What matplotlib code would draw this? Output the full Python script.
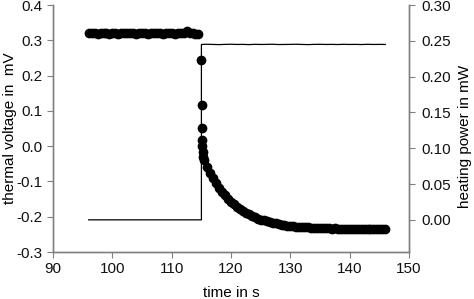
import matplotlib
matplotlib.use("Agg")
import matplotlib.pyplot as plt

plt.rcParams['font.family'] = ['Liberation Sans', 'DejaVu Sans']
plt.rcParams['axes.unicode_minus'] = False

# thermal voltage (mV) - plateau before heating is switched on
t_before = [96.0, 96.5, 97.0, 97.5, 98.0, 98.5, 99.0, 99.5, 100.0, 100.5,
            101.0, 101.5, 102.0, 102.5, 103.0, 103.5, 104.0, 104.5, 105.0, 105.5,
            106.0, 106.5, 107.0, 107.5, 108.0, 108.5, 109.0, 109.5, 110.0, 110.5,
            111.0, 111.5, 112.0, 112.5, 113.0, 113.5, 114.0, 114.5]
v_before = [0.321, 0.320, 0.321, 0.319, 0.320, 0.322, 0.320, 0.319, 0.321, 0.320,
            0.319, 0.321, 0.320, 0.321, 0.322, 0.320, 0.319, 0.320, 0.321, 0.320,
            0.319, 0.320, 0.321, 0.320, 0.320, 0.319, 0.320, 0.321, 0.320, 0.319,
            0.320, 0.321, 0.322, 0.326, 0.321, 0.320, 0.319, 0.318]

# thermal voltage after the step
t_after = [115.0, 115.02, 115.05, 115.08, 115.12, 115.2, 115.3, 115.5, 116.0, 116.5,
           117.0, 117.5, 118.0, 118.5, 119.0, 119.5, 120.0, 120.5, 121.0, 121.5,
           122.0, 122.5, 123.0, 123.5, 124.0, 124.5, 125.0, 125.5, 126.0, 126.5,
           127.0, 127.5, 128.0, 128.5, 129.0, 129.5, 130.0, 130.5, 131.0, 131.5,
           132.0, 132.5, 133.0, 133.5, 134.0, 134.5, 135.0, 135.5, 136.0, 136.5,
           137.0, 137.5, 138.0, 138.5, 139.0, 139.5, 140.0, 140.5, 141.0, 141.5,
           142.0, 142.5, 143.0, 143.5, 144.0, 144.5, 145.0, 145.5, 146.0]
v_after = [0.245, 0.117, 0.051, 0.017, 0.000, -0.015, -0.030, -0.039, -0.058, -0.075,
           -0.091, -0.105, -0.118, -0.129, -0.139, -0.149, -0.157, -0.165, -0.172, -0.178,
           -0.184, -0.189, -0.193, -0.197, -0.201, -0.205, -0.208, -0.210, -0.213, -0.215,
           -0.217, -0.219, -0.221, -0.222, -0.223, -0.225, -0.226, -0.227, -0.228, -0.228,
           -0.229, -0.230, -0.230, -0.231, -0.231, -0.232, -0.232, -0.233, -0.233, -0.233,
           -0.234, -0.233, -0.234, -0.234, -0.235, -0.234, -0.235, -0.235, -0.234, -0.235,
           -0.236, -0.235, -0.235, -0.236, -0.235, -0.236, -0.236, -0.235, -0.236]

# heating power (mW)
t_power = [96.0, 115.0, 115.0, 116.0, 117.0, 118.0, 119.0, 120.0, 121.0, 122.0,
           123.0, 124.0, 125.0, 126.0, 127.0, 128.0, 129.0, 130.0, 131.0, 132.0,
           133.0, 134.0, 135.0, 136.0, 137.0, 138.0, 139.0, 140.0, 141.0, 142.0,
           143.0, 144.0, 145.0, 146.0]
p_power = [0.000, 0.000, 0.2450, 0.2453, 0.2450, 0.2448, 0.2451, 0.2453, 0.2450, 0.2451,
           0.2448, 0.2452, 0.2450, 0.2451, 0.2453, 0.2449, 0.2450, 0.2451, 0.2453, 0.2450,
           0.2448, 0.2451, 0.2452, 0.2450, 0.2451, 0.2449, 0.2452, 0.2450, 0.2451, 0.2449,
           0.2452, 0.2450, 0.2451, 0.2450]

grey = '#808080'

fig = plt.figure(figsize=(4.74, 2.99), dpi=100)
ax = fig.add_axes([0.112, 0.157, 0.751, 0.826])
ax2 = ax.twinx()

ax.plot(t_before, v_before, 'o', color='black', ms=6, mec='black', zorder=3)
ax.plot(t_after, v_after, 'o', color='black', ms=6, mec='black', zorder=3)
ax2.plot(t_power, p_power, '-', color='black', lw=0.9)

ax.set_xlim(90, 150)
ax.set_ylim(-0.3, 0.4)
ax.set_xticks([90, 100, 110, 120, 130, 140, 150])
ax.set_yticks([-0.3, -0.2, -0.1, 0.0, 0.1, 0.2, 0.3, 0.4])
ax.set_yticklabels(['-0.3', '-0.2', '-0.1', '0.0', '0.1', '0.2', '0.3', '0.4'])
ax2.set_ylim(-0.045, 0.30)
ax2.set_yticks([0.0, 0.05, 0.10, 0.15, 0.20, 0.25, 0.30])
ax2.set_yticklabels(['0.00', '0.05', '0.10', '0.15', '0.20', '0.25', '0.30'])

for a in (ax, ax2):
    a.spines['top'].set_visible(False)
    for s in ('left', 'right', 'bottom'):
        a.spines[s].set_color(grey)
        a.spines[s].set_linewidth(1.0)
    a.tick_params(direction='out', length=4, width=0.8, color=grey,
                  labelsize=11, labelcolor='#111111')
ax2.tick_params(axis='y', pad=5)

ax.set_xlabel('time in s', fontsize=11)
ax.xaxis.set_label_coords(0.5, -0.136)
ax.set_ylabel('thermal voltage in  mV', fontsize=11)
ax.yaxis.set_label_coords(-0.1, 0.5)
ax2.set_ylabel('heating power in mW', fontsize=11, rotation=90)
ax2.yaxis.set_label_coords(1.138, 0.47)

fig.savefig('out.png', dpi=100)
